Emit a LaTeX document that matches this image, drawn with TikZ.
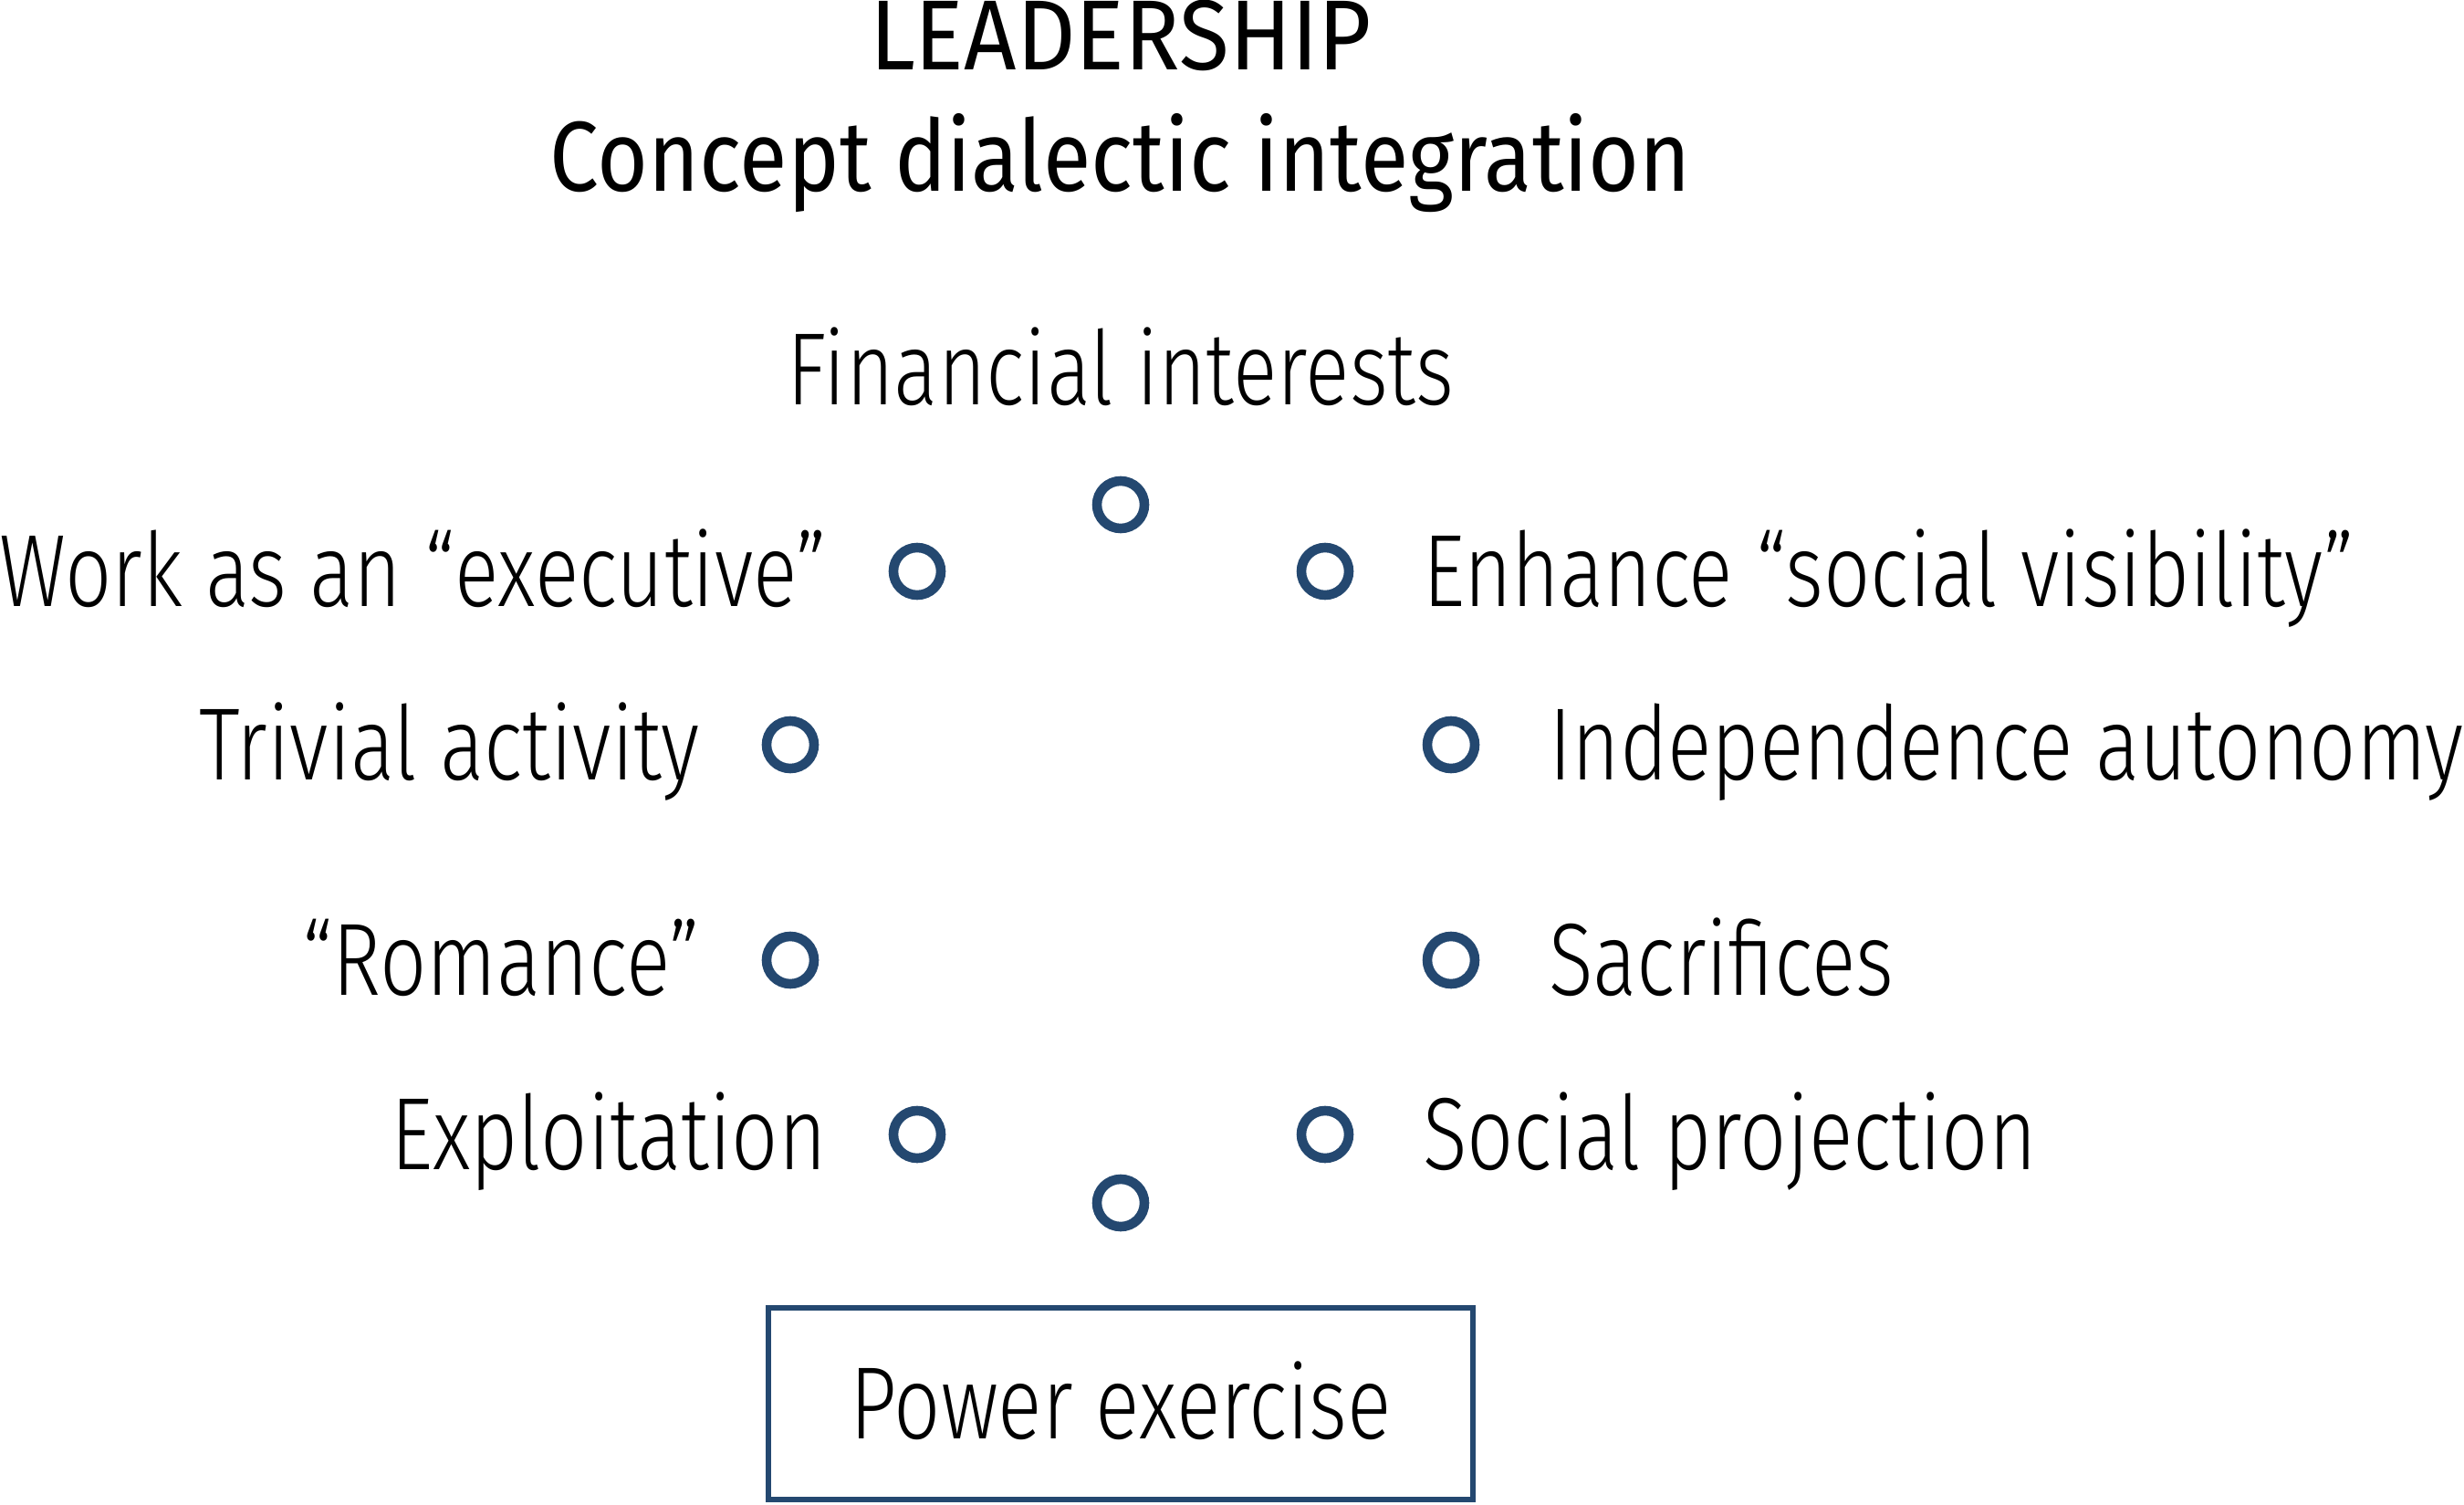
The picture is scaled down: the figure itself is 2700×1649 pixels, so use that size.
\documentclass[tikz,border=0pt]{standalone}
\usepackage{fontspec}
\setmainfont{Fira Sans}[UprightFont=* Light, FakeStretch=0.80]
\newfontfamily\headfont{Fira Sans}[FakeStretch=0.88]
\newfontfamily\titlefont{Fira Sans}[FakeStretch=0.92]
\usetikzlibrary{positioning}
\definecolor{ringblue}{HTML}{244870}

\begin{document}
\begin{tikzpicture}[
        x=0.01cm, y=-0.01cm, % one unit per pixel of the page
        node distance=0.75cm, % gap between ring and its label
        head/.style={font=\headfont\fontsize{31pt}{36pt}\selectfont, inner sep=0pt, anchor=base},
        lbl/.style={font=\fontsize{32pt}{38pt}\selectfont, inner sep=0pt, text height=22pt, text depth=0pt},
        lleft/.style={lbl, left=0.67cm of #1},
        ring/.style={circle, draw=ringblue, line width=3pt, inner sep=0pt, minimum size=0.52cm}
      ]
      \useasboundingbox (0,0) rectangle (2700,1649);

      % Titles
      \node (title) [head, font=\titlefont\fontsize{31pt}{36pt}\selectfont] at (1228,77) {LEADERSHIP};
      \node (sub) [head] at (1228,210) {Concept dialectic integration};
      \node (fin) [head, font=\fontsize{32pt}{38pt}\selectfont] at (1228,444) {Financial interests};

      % Rings
      \node (rtop) [ring] at (1228,553) {};
      \node (rwork) [ring] at (1005,626) {};
      \node (renh) [ring] at (1452,626) {};
      \node (rtriv) [ring] at (866,816) {};
      \node (rind) [ring] at (1590,816) {};
      \node (rrom) [ring] at (866,1052) {};
      \node (rsac) [ring] at (1590,1052) {};
      \node (rexp) [ring] at (1005,1243) {};
      \node (rsoc) [ring] at (1452,1243) {};
      \node (rbot) [ring] at (1228,1318) {};

      % Labels
      \node (work) [lleft=rwork] {Work as an “executive”};
      \node (enh) [lbl, right=of renh] {Enhance “social visibility”};
      \node (triv) [lleft=rtriv] {Trivial activity};
      \node (ind) [lbl, right=of rind] {Independence autonomy};
      \node (rom) [lleft=rrom] {“Romance”};
      \node (sac) [lbl, right=of rsac] {Sacrifices};
      \node (exp) [lleft=rexp] {Exploitation};
      \node (soc) [lbl, right=of rsoc] {Social projection};

      % Box
      \node (power) [lbl, draw=ringblue, line width=1.6pt, minimum width=7.72cm, minimum height=2.1cm] at (1228,1538) {Power exercise};

    \end{tikzpicture}
\end{document}
